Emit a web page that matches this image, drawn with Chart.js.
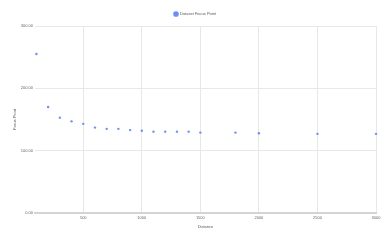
<!DOCTYPE html>
<html>
<head>
<meta charset="utf-8">
<script src="https://cdn.jsdelivr.net/npm/chart.js@4"></script>
<style>
  html, body { margin: 0; padding: 0; background: #fff; }
  #wrap { width: 390px; height: 241px; }
</style>
</head>
<body>
<div id="wrap"><canvas id="myChart" width="390" height="241"></canvas></div>
<script>
const distance = [100, 200, 300, 400, 500, 600, 700, 800, 900, 1000, 1100, 1200, 1300, 1400, 1500, 1800, 2000, 2500, 3000];
const focusPoint = [255, 170, 153, 147, 143, 137, 135, 135, 133, 132, 130.5, 130.5, 130.5, 130.5, 129, 129, 128, 127, 127];
const xTicks = [500, 1000, 1500, 2000, 2500, 3000];
const yTicks = [0, 100, 200, 300];

const ctx = document.getElementById('myChart');
const tickFont = { family: 'Arial', size: 4 };

new Chart(ctx, {
    type: 'scatter',
    data: {
        datasets: [{
            label: 'Dataset Focus Point',
            data: distance.map((d, i) => ({ x: d, y: focusPoint[i] })),
            backgroundColor: '#6d8ff2',
            borderColor: '#6d8ff2',
            pointRadius: 1.2,
            pointBorderWidth: 0,
            clip: false,
        }]
    },
    options: {
        responsive: false,
        animation: false,
        layout: { padding: { top: 6, right: 14, left: 14, bottom: 0 } },
        plugins: {
            legend: {
                labels: {
                    usePointStyle: true,
                    pointStyle: 'circle',
                    boxWidth: 4,
                    boxHeight: 4,
                    padding: 6,
                    color: '#555',
                    font: tickFont,
                }
            },
            tooltip: { enabled: false }
        },
        scales: {
            x: {
                type: 'linear',
                min: 88,
                max: 3000,
                afterBuildTicks: (s) => { s.ticks = xTicks.map(v => ({ value: v })); },
                afterFit: (s) => { s.height = 28; },
                grid: { color: '#e8e8e8', drawTicks: false },
                border: { color: '#d4d4d4', width: 2 },
                ticks: { color: '#666', font: tickFont, padding: 2, maxRotation: 0, callback: (v) => String(v) },
                title: { display: true, text: 'Distance', color: '#555', font: tickFont, padding: { top: 4, bottom: 12 } }
            },
            y: {
                min: 0,
                max: 300,
                afterBuildTicks: (s) => { s.ticks = yTicks.map(v => ({ value: v })); },
                afterFit: (s) => { s.width = 21; },
                grid: { color: '#e8e8e8', drawTicks: false },
                border: { display: false },
                ticks: { color: '#666', font: tickFont, padding: 2, callback: (v) => v.toFixed(2) },
                title: { display: true, text: 'Focus Point', color: '#555', font: tickFont, padding: { top: -2, bottom: -2 } }
            }
        }
    }
});
</script>
</body>
</html>
